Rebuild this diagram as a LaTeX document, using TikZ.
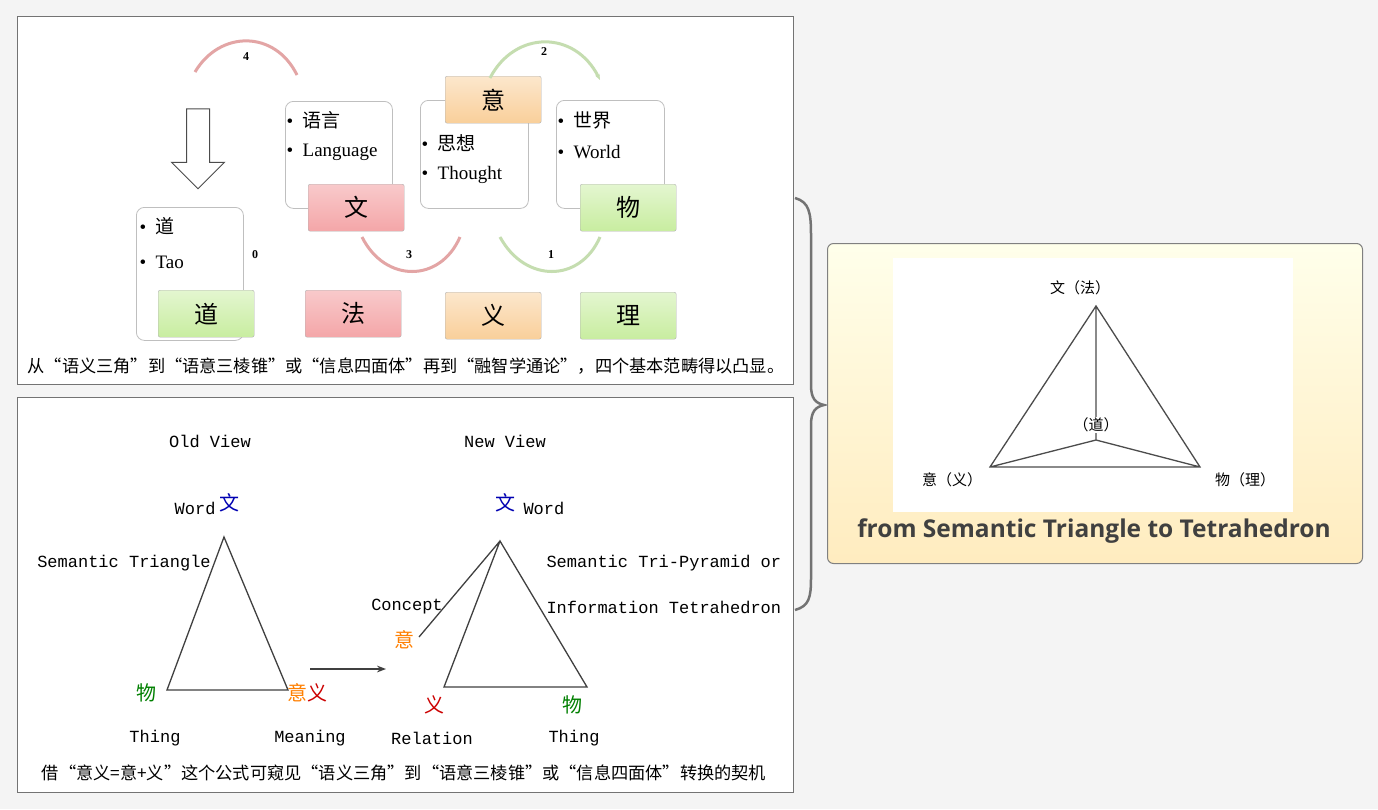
\documentclass[tikz,border=0pt]{standalone}
\usepackage{fontspec}
\setmainfont{Liberation Serif}
\newfontfamily\cjk{Noto Sans CJK SC}
\newfontfamily\mono{Liberation Mono}
\newfontfamily\titlef{Open Sans}
\usetikzlibrary{arrows.meta,shapes.arrows}
\definecolor{bg}{HTML}{F4F4F4}
\definecolor{redf}{HTML}{F4A6A8}
\definecolor{orf}{HTML}{F9CF9A}
\definecolor{grf}{HTML}{C8EDA0}
\definecolor{arcr}{HTML}{E3A5A5}
\definecolor{arcg}{HTML}{C5DDB0}
\begin{document}
\begin{tikzpicture}[x=1pt,y=-1pt,
  panel/.style={draw=black!55,fill=white,line width=1pt},
  itembox/.style={draw=black!25,fill=white,rounded corners=8pt,line width=0.8pt},
  lab/.style={draw=black!30,rounded corners=2pt,minimum width=96pt,minimum height=47pt,font=\cjk\fontsize{24}{24}\selectfont},
  labr/.style={lab,top color=redf!60!white,bottom color=redf},
  labo/.style={lab,top color=orf!50!white,bottom color=orf},
  labg/.style={lab,top color=grf!50!white,bottom color=grf},
  bul/.style={anchor=west,font=\fontsize{19}{19}\selectfont},
  num/.style={font=\bfseries\fontsize{12}{12}\selectfont},
  arcR/.style={draw=arcr,line width=3pt},
  arcG/.style={draw=arcg,line width=3pt},
  mt/.style={font=\mono\fontsize{17}{17}\selectfont},
  ck/.style={font=\cjk\fontsize{20}{20}\selectfont},
  tri/.style={draw=black!75,line width=1.3pt},
  captext/.style={font=\cjk\fontsize{17.2}{18}\selectfont}]
\useasboundingbox (0,0) rectangle (1378,809);
\fill[bg] (0,0) rectangle (1378,809);
% panels
\node[panel,minimum width=776pt,minimum height=368pt,anchor=north west,inner sep=0pt] (top) at (17,16) {};
\node[panel,minimum width=776pt,minimum height=395pt,anchor=north west,inner sep=0pt] (bot) at (17,397) {};
% brace
\draw[black!55,line width=2.5pt] (795,198) .. controls (809,202) and (811,212) .. (811,235) -- (811,385) .. controls (811,398) and (815,403) .. (824,405)
  .. controls (815,407) and (811,412) .. (811,425) -- (811,578) .. controls (811,598) and (809,606) .. (795,610);
% right node
\node[draw=black!50,line width=1pt,rounded corners=6pt,top color=yellow!8!white,bottom color=yellow!40!orange!25,minimum width=535pt,minimum height=320pt,anchor=north west] (main) at (827,243) {};
\node[fill=white,minimum width=400pt,minimum height=254pt,anchor=north west,inner sep=0pt] (img) at (893,258) {};
\node[font=\titlef\bfseries\fontsize{24.5}{25}\selectfont,text=black!75] (title) at (1094,531) {from Semantic Triangle to Tetrahedron};
\coordinate (A) at (1096,306); \coordinate (L) at (990,467); \coordinate (R) at (1200,467); \coordinate (C) at (1096,440);
\draw[black!70,line width=1.3pt] (A) -- (L) -- (R) -- cycle (A) -- (C) (L) -- (C) -- (R);
\node[fill=white,inner sep=1pt,font=\cjk\fontsize{15}{15}\selectfont] (cd) at (1096,425) {（道）};
\node[font=\cjk\fontsize{15}{15}\selectfont] (ca) at (1080,288) {文（法）};
\node[font=\cjk\fontsize{15}{15}\selectfont] (cl) at (952,480) {意（义）};
\node[font=\cjk\fontsize{15}{15}\selectfont] (cr) at (1245,480) {物（理）};
% top panel content
\node[single arrow,shape border rotate=270,draw=black!70,fill=white,line width=1pt,minimum height=80pt,minimum width=0pt,single arrow head extend=15pt,inner sep=11pt] (down) at (198,143) {};
\node[itembox,minimum width=107pt,minimum height=133pt,anchor=north west] (tao) at (136,207) {};
\node[bul] at (136,226) {\textbullet\enspace\cjk 道};
\node[bul] at (136,262) {\textbullet\enspace Tao};
\node[labg,anchor=north west] (ldao) at (158,290) {道};
\node[num] (n0) at (255,255) {0};
\node[itembox,minimum width=107pt,minimum height=107pt,anchor=north west] (lang) at (285,101) {};
\node[bul] at (283,120) {\textbullet\enspace\cjk 语言};
\node[bul] at (283,152) {\textbullet\enspace Language};
\node[labr,anchor=north west] (lwen) at (308,184) {文};
\node[itembox,minimum width=108pt,minimum height=108pt,anchor=north west] (th) at (420,100) {};
\node[labo,anchor=north west] (lyi) at (445,76) {意};
\node[bul] at (418,143) {\textbullet\enspace\cjk 思想};
\node[bul] at (418,175) {\textbullet\enspace Thought};
\node[itembox,minimum width=108pt,minimum height=108pt,anchor=north west] (wd) at (556,100) {};
\node[bul] at (554,120) {\textbullet\enspace\cjk 世界};
\node[bul] at (554,152) {\textbullet\enspace World};
\node[labg,anchor=north west] (lwu) at (580,184) {物};
\node[labr,anchor=north west] (lfa) at (305,290) {法};
\node[labo,anchor=north west] (lyi2) at (445,292) {义};
\node[labg,anchor=north west] (lli) at (580,292) {理};
\draw[arcR] (195,72) .. controls (220,30) and (275,30) .. (297,75);
\node[num] at (246,57) {4};
\draw[arcG,-{Stealth[length=6pt]}] (490,78) .. controls (515,30) and (575,30) .. (600,80);
\node[num] at (544,52) {2};
\draw[arcR] (362,237) .. controls (385,283) and (440,283) .. (460,237);
\node[num] at (409,255) {3};
\draw[arcG] (500,237) .. controls (525,283) and (580,283) .. (600,237);
\node[num] at (551,255) {1};
\node[captext] (cap1) at (406,366) {从“语义三角”到“语意三棱锥”或“信息四面体”再到“融智学通论”，四个基本范畴得以凸显。};
% bottom panel content
\node[mt] (ov) at (210,441) {Old View};
\node[mt] (nv) at (505,441) {New View};
\node[mt,anchor=east] (w1) at (219,508) {Word};
\node[ck,text=blue!70!black,anchor=west] (w1c) at (216,503) {文};
\coordinate (a1) at (224,537); \coordinate (l1) at (167,690); \coordinate (r1) at (288,690);
\draw[tri] (a1) -- (l1) -- (r1) -- cycle;
\node[mt] (st) at (124,563) {Semantic Triangle};
\node[ck,text=green!50!black] (wu1) at (146,693) {物};
\node[mt] (th1) at (155,738) {Thing};
\node[ck,anchor=east] (yy) at (331,693) {\textcolor{orange}{意}\textcolor{red!80!black}{义}};
\node[mt] (mn) at (310,738) {Meaning};
\draw[black!75,line width=2pt,-{Stealth[length=9pt]}] (310,669) -- (386,669);
\node[ck,text=blue!70!black] (w2c) at (505,503) {文};
\node[mt,anchor=west] (w2) at (520,508) {Word};
\coordinate (a2) at (500,541); \coordinate (l2) at (444,687); \coordinate (r2) at (587,687); \coordinate (c2) at (419,637);
\draw[tri] (a2) -- (l2) -- (r2) -- cycle (a2) -- (c2);
\node[mt] (cc) at (407,607) {Concept};
\node[ck,text=orange] (yi3) at (404,640) {意};
\node[ck,text=red!80!black] (yi4) at (434,705) {义};
\node[mt] (rel) at (432,738) {Relation};
\node[ck,text=green!50!black] (wu2) at (572,705) {物};
\node[mt] (th2) at (574,738) {Thing};
\node[mt,anchor=west] (sp) at (543,563) {Semantic Tri-Pyramid or};
\node[mt,anchor=west] (it) at (543,607) {Information Tetrahedron};
\node[captext] (cap2) at (404,773) {借“意义=意+义”这个公式可窥见“语义三角”到“语意三棱锥”或“信息四面体”转换的契机};
\end{tikzpicture}
\end{document}
